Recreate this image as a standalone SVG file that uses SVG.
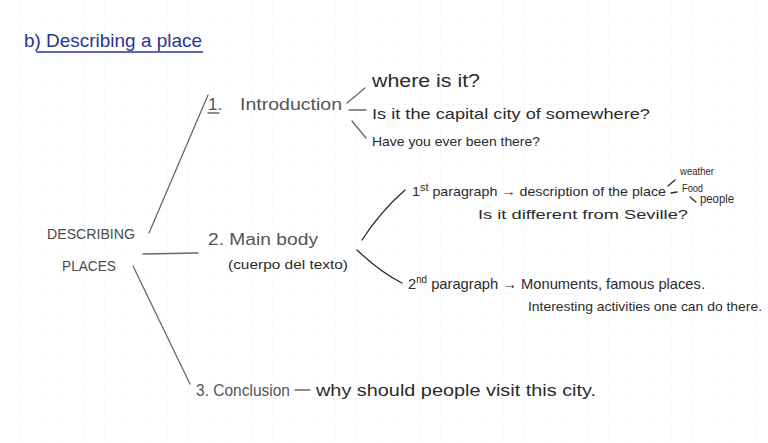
<svg xmlns="http://www.w3.org/2000/svg" width="768" height="443" viewBox="0 0 768 443">
<defs>
<pattern id="grid" width="21" height="21" patternUnits="userSpaceOnUse">
<path d="M21 0V21M0 21H21" fill="none" stroke="#f3f4f7" stroke-width="1"/>
</pattern>
<style>
text{font-family:"Liberation Sans","DejaVu Sans",sans-serif;fill:#2b2b2b}
.title{fill:#2c358f;font-size:19px}
.cen{fill:#4a4a4a;font-size:14px}
.br{fill:#555;font-size:17px}
.q{font-size:15px}
.s{font-size:13px}
.xs{font-size:10px}
.ln{stroke:#6e6666;stroke-width:1.3;fill:none;stroke-linecap:round}
.dk{stroke:#2b2b2b;stroke-width:1.3;fill:none;stroke-linecap:round}
</style>
</defs>
<rect width="768" height="443" fill="#fff"/>
<rect width="768" height="443" fill="url(#grid)"/>
<g id="title">
<text class="title" x="24" y="47" textLength="178" lengthAdjust="spacingAndGlyphs">b) Describing a place</text>
<line x1="36" y1="52" x2="203" y2="52" stroke="#2c358f" stroke-width="1.6"/>
</g>
<g id="center">
<text class="cen" x="47" y="239" textLength="88" lengthAdjust="spacingAndGlyphs">DESCRIBING</text>
<text class="cen" x="62" y="271" textLength="54" lengthAdjust="spacingAndGlyphs">PLACES</text>
</g>
<g id="connectors">
<line class="ln" x1="149" y1="233" x2="208" y2="95"/>
<line class="ln" x1="143" y1="254" x2="198" y2="253"/>
<line class="ln" x1="133" y1="266" x2="190" y2="384"/>
<line class="ln" x1="347" y1="103" x2="365" y2="88"/>
<line class="ln" x1="349" y1="110" x2="366" y2="110"/>
<line class="ln" x1="352" y1="121" x2="366" y2="138"/>
<path class="dk" d="M362 240 Q380 212 405 190"/>
<path class="dk" d="M357 250 Q380 272 402 283"/>
<line class="dk" x1="668" y1="186" x2="675" y2="180"/>
<line class="dk" x1="671" y1="193" x2="677" y2="192"/>
<line class="dk" x1="690" y1="197" x2="696" y2="202"/>
<line class="ln" x1="295" y1="390" x2="310" y2="390"/>
</g>
<g id="introduction">
<text class="br" x="208" y="110">1.</text>
<line class="ln" x1="208" y1="113" x2="219" y2="113"/>
<text class="br" x="240" y="110" textLength="102" lengthAdjust="spacingAndGlyphs">Introduction</text>
</g>
<g id="q-where">
<text x="372" y="87" font-size="18" textLength="108" lengthAdjust="spacingAndGlyphs">where is it?</text>
</g>
<g id="q-capital">
<text class="q" x="372" y="119" textLength="278" lengthAdjust="spacingAndGlyphs">Is it the capital city of somewhere?</text>
</g>
<g id="q-been">
<text class="s" x="372" y="146" textLength="168" lengthAdjust="spacingAndGlyphs">Have you ever been there?</text>
</g>
<g id="main-body">
<text class="br" x="208" y="245" textLength="110" lengthAdjust="spacingAndGlyphs">2. Main body</text>
<text class="s" x="228" y="269" textLength="120" lengthAdjust="spacingAndGlyphs">(cuerpo del texto)</text>
</g>
<g id="paragraph-1">
<text class="s" x="412" y="196" textLength="254" lengthAdjust="spacingAndGlyphs">1<tspan class="xs" dy="-5">st</tspan><tspan dy="5"> paragraph → description of the place</tspan></text>
<text class="s" x="478" y="219" textLength="210" lengthAdjust="spacingAndGlyphs">Is it different from Seville?</text>
</g>
<g id="place-aspects">
<text class="xs" x="680" y="175" textLength="34" lengthAdjust="spacingAndGlyphs">weather</text>
<text class="xs" x="682" y="192" textLength="21" lengthAdjust="spacingAndGlyphs">Food</text>
<text class="s" x="700" y="203" textLength="34" lengthAdjust="spacingAndGlyphs">people</text>
</g>
<g id="paragraph-2">
<text class="q" x="408" y="289" textLength="297" lengthAdjust="spacingAndGlyphs">2<tspan class="xs" dy="-6">nd</tspan><tspan dy="6"> paragraph → Monuments, famous places.</tspan></text>
<text class="s" x="528" y="311" textLength="234" lengthAdjust="spacingAndGlyphs">Interesting activities one can do there.</text>
</g>
<g id="conclusion">
<text class="br" x="196" y="396" textLength="94" lengthAdjust="spacingAndGlyphs">3. Conclusion</text>
<text x="316" y="396" font-size="17" textLength="280" lengthAdjust="spacingAndGlyphs">why should people visit this city.</text>
</g>
</svg>
